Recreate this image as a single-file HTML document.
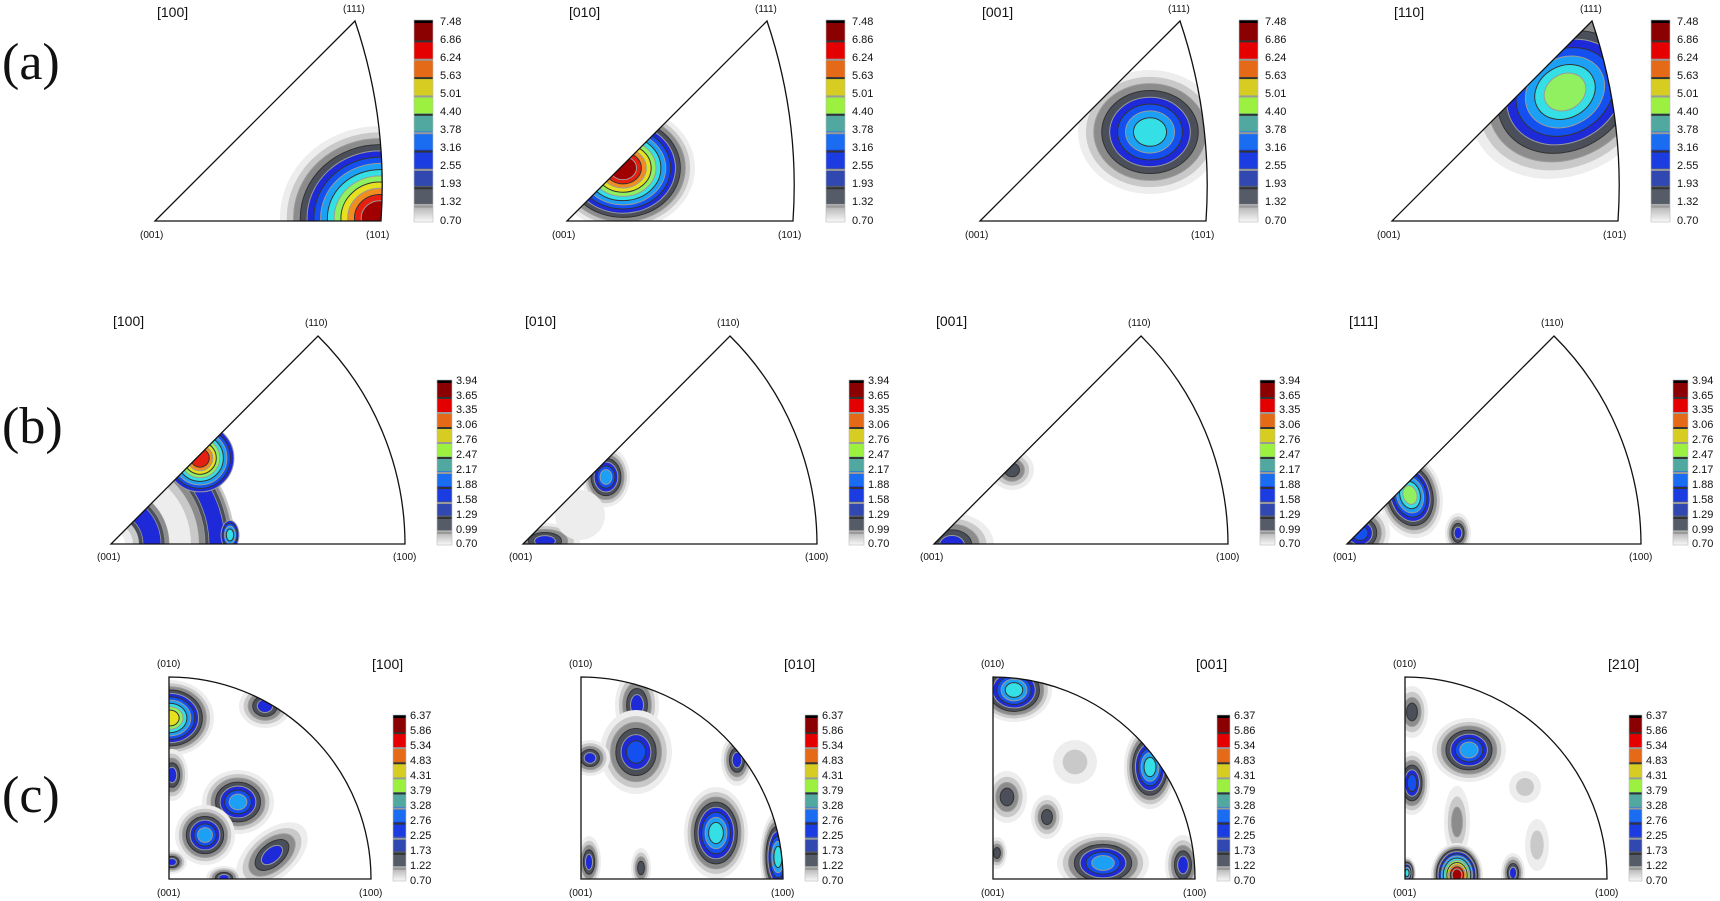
<!DOCTYPE html>
<html><head><meta charset="utf-8"><style>
html,body{margin:0;padding:0;background:#fff;}
svg{display:block;}
.s{font-family:"Liberation Sans",Arial,sans-serif;}
.L{font-family:"Liberation Serif","Times New Roman",serif;font-size:52px;}
.t{font-size:14px;}
.m{font-size:10px;}
.c{font-size:11px;}
</style></head><body>
<svg id="S" width="1720" height="901" viewBox="0 0 1720 901" xmlns="http://www.w3.org/2000/svg">
<defs id="D"></defs>
<g id="G"></g>
<g class="s" fill="#111">
<text class="L" x="2" y="79">(a)</text>
<text class="L" x="2" y="443">(b)</text>
<text class="L" x="2" y="812">(c)</text>

<text class="t" x="157" y="17">[100]</text><text class="m" x="343" y="12">(111)</text><text class="m" x="140" y="238">(001)</text><text class="m" x="366" y="238">(101)</text>
<text class="t" x="569" y="17">[010]</text><text class="m" x="755" y="12">(111)</text><text class="m" x="552" y="238">(001)</text><text class="m" x="778" y="238">(101)</text>
<text class="t" x="982" y="17">[001]</text><text class="m" x="1168" y="12">(111)</text><text class="m" x="965" y="238">(001)</text><text class="m" x="1191" y="238">(101)</text>
<text class="t" x="1394" y="17">[110]</text><text class="m" x="1580" y="12">(111)</text><text class="m" x="1377" y="238">(001)</text><text class="m" x="1603" y="238">(101)</text>

<text class="t" x="113" y="326">[100]</text><text class="m" x="305" y="326">(110)</text><text class="m" x="97" y="560">(001)</text><text class="m" x="393" y="560">(100)</text>
<text class="t" x="525" y="326">[010]</text><text class="m" x="717" y="326">(110)</text><text class="m" x="509" y="560">(001)</text><text class="m" x="805" y="560">(100)</text>
<text class="t" x="936" y="326">[001]</text><text class="m" x="1128" y="326">(110)</text><text class="m" x="920" y="560">(001)</text><text class="m" x="1216" y="560">(100)</text>
<text class="t" x="1349" y="326">[111]</text><text class="m" x="1541" y="326">(110)</text><text class="m" x="1333" y="560">(001)</text><text class="m" x="1629" y="560">(100)</text>

<text class="m" x="157" y="667">(010)</text><text class="t" x="372" y="669">[100]</text><text class="m" x="157" y="896">(001)</text><text class="m" x="359" y="896">(100)</text>
<text class="m" x="569" y="667">(010)</text><text class="t" x="784" y="669">[010]</text><text class="m" x="569" y="896">(001)</text><text class="m" x="771" y="896">(100)</text>
<text class="m" x="981" y="667">(010)</text><text class="t" x="1196" y="669">[001]</text><text class="m" x="981" y="896">(001)</text><text class="m" x="1183" y="896">(100)</text>
<text class="m" x="1393" y="667">(010)</text><text class="t" x="1608" y="669">[210]</text><text class="m" x="1393" y="896">(001)</text><text class="m" x="1595" y="896">(100)</text>
</g>
<g class="s c" fill="#111" font-size="11">
<g>
<text x="440" y="25">7.48</text><text x="440" y="43">6.86</text><text x="440" y="61">6.24</text><text x="440" y="79">5.63</text><text x="440" y="97">5.01</text><text x="440" y="115">4.40</text><text x="440" y="133">3.78</text><text x="440" y="151">3.16</text><text x="440" y="169">2.55</text><text x="440" y="187">1.93</text><text x="440" y="205">1.32</text><text x="440" y="224">0.70</text>
</g>
<g transform="translate(412,0)"><text x="440" y="25">7.48</text><text x="440" y="43">6.86</text><text x="440" y="61">6.24</text><text x="440" y="79">5.63</text><text x="440" y="97">5.01</text><text x="440" y="115">4.40</text><text x="440" y="133">3.78</text><text x="440" y="151">3.16</text><text x="440" y="169">2.55</text><text x="440" y="187">1.93</text><text x="440" y="205">1.32</text><text x="440" y="224">0.70</text></g>
<g transform="translate(825,0)"><text x="440" y="25">7.48</text><text x="440" y="43">6.86</text><text x="440" y="61">6.24</text><text x="440" y="79">5.63</text><text x="440" y="97">5.01</text><text x="440" y="115">4.40</text><text x="440" y="133">3.78</text><text x="440" y="151">3.16</text><text x="440" y="169">2.55</text><text x="440" y="187">1.93</text><text x="440" y="205">1.32</text><text x="440" y="224">0.70</text></g>
<g transform="translate(1237,0)"><text x="440" y="25">7.48</text><text x="440" y="43">6.86</text><text x="440" y="61">6.24</text><text x="440" y="79">5.63</text><text x="440" y="97">5.01</text><text x="440" y="115">4.40</text><text x="440" y="133">3.78</text><text x="440" y="151">3.16</text><text x="440" y="169">2.55</text><text x="440" y="187">1.93</text><text x="440" y="205">1.32</text><text x="440" y="224">0.70</text></g>
<g><text x="456" y="384">3.94</text><text x="456" y="399">3.65</text><text x="456" y="413">3.35</text><text x="456" y="428">3.06</text><text x="456" y="443">2.76</text><text x="456" y="458">2.47</text><text x="456" y="473">2.17</text><text x="456" y="488">1.88</text><text x="456" y="503">1.58</text><text x="456" y="518">1.29</text><text x="456" y="533">0.99</text><text x="456" y="547">0.70</text></g>
<g transform="translate(412,0)"><text x="456" y="384">3.94</text><text x="456" y="399">3.65</text><text x="456" y="413">3.35</text><text x="456" y="428">3.06</text><text x="456" y="443">2.76</text><text x="456" y="458">2.47</text><text x="456" y="473">2.17</text><text x="456" y="488">1.88</text><text x="456" y="503">1.58</text><text x="456" y="518">1.29</text><text x="456" y="533">0.99</text><text x="456" y="547">0.70</text></g>
<g transform="translate(823,0)"><text x="456" y="384">3.94</text><text x="456" y="399">3.65</text><text x="456" y="413">3.35</text><text x="456" y="428">3.06</text><text x="456" y="443">2.76</text><text x="456" y="458">2.47</text><text x="456" y="473">2.17</text><text x="456" y="488">1.88</text><text x="456" y="503">1.58</text><text x="456" y="518">1.29</text><text x="456" y="533">0.99</text><text x="456" y="547">0.70</text></g>
<g transform="translate(1236,0)"><text x="456" y="384">3.94</text><text x="456" y="399">3.65</text><text x="456" y="413">3.35</text><text x="456" y="428">3.06</text><text x="456" y="443">2.76</text><text x="456" y="458">2.47</text><text x="456" y="473">2.17</text><text x="456" y="488">1.88</text><text x="456" y="503">1.58</text><text x="456" y="518">1.29</text><text x="456" y="533">0.99</text><text x="456" y="547">0.70</text></g>
<g><text x="410" y="719">6.37</text><text x="410" y="734">5.86</text><text x="410" y="749">5.34</text><text x="410" y="764">4.83</text><text x="410" y="779">4.31</text><text x="410" y="794">3.79</text><text x="410" y="809">3.28</text><text x="410" y="824">2.76</text><text x="410" y="839">2.25</text><text x="410" y="854">1.73</text><text x="410" y="869">1.22</text><text x="410" y="884">0.70</text></g>
<g transform="translate(412,0)"><text x="410" y="719">6.37</text><text x="410" y="734">5.86</text><text x="410" y="749">5.34</text><text x="410" y="764">4.83</text><text x="410" y="779">4.31</text><text x="410" y="794">3.79</text><text x="410" y="809">3.28</text><text x="410" y="824">2.76</text><text x="410" y="839">2.25</text><text x="410" y="854">1.73</text><text x="410" y="869">1.22</text><text x="410" y="884">0.70</text></g>
<g transform="translate(824,0)"><text x="410" y="719">6.37</text><text x="410" y="734">5.86</text><text x="410" y="749">5.34</text><text x="410" y="764">4.83</text><text x="410" y="779">4.31</text><text x="410" y="794">3.79</text><text x="410" y="809">3.28</text><text x="410" y="824">2.76</text><text x="410" y="839">2.25</text><text x="410" y="854">1.73</text><text x="410" y="869">1.22</text><text x="410" y="884">0.70</text></g>
<g transform="translate(1236,0)"><text x="410" y="719">6.37</text><text x="410" y="734">5.86</text><text x="410" y="749">5.34</text><text x="410" y="764">4.83</text><text x="410" y="779">4.31</text><text x="410" y="794">3.79</text><text x="410" y="809">3.28</text><text x="410" y="824">2.76</text><text x="410" y="839">2.25</text><text x="410" y="854">1.73</text><text x="410" y="869">1.22</text><text x="410" y="884">0.70</text></g>
</g>
</svg>
<script>
(function(){
var NS="http://www.w3.org/2000/svg",D=document.getElementById("D"),G=document.getElementById("G");
var C=["#ffffff","#ededed","#c9c9c9","#8c8c8c","#4a4f5a","#1e2ad8","#1450f0","#1ca0f5","#34e0e6","#90f060","#e6e020","#f08c20","#e62010","#a00000"];
function el(t,a,p){var e=document.createElementNS(NS,t);for(var k in a)e.setAttribute(k,a[k]);(p||G).appendChild(e);return e;}
var id=0;
function panel(path,blobs){
  var cid="c"+(id++);var cp=el("clipPath",{id:cid},D);el("path",{d:path},cp);
  var g=el("g",{"clip-path":"url(#"+cid+")"});
  blobs.forEach(function(b){
    if(b[0]==="R"){
      b[3].forEach(function(r){el("circle",{cx:b[1],cy:b[2],r:r[0],fill:C[r[1]],stroke:r[1]>2?"#999":"none","stroke-width":0.8},g);});
      return;
    }
    var cx=b[0],cy=b[1],rx=b[2],ry=b[3],p=b[4],rot=b[5]||0,st=b[6]||1;
    for(var k=st;k<=p;k++){
      var s=1-(k-1)/p*0.88;
      el("ellipse",{cx:cx,cy:cy,rx:rx*s,ry:ry*s,fill:C[k],stroke:k>2?(k%2?"#9a9a9a":"#333"):"none","stroke-width":k>2?1:0,transform:"rotate("+rot+" "+cx+" "+cy+")"},g);
    }
  });
  el("path",{d:path,fill:"none",stroke:"#111","stroke-width":1.3});
}
function triA(v){return "M"+v+" 221 L"+(v+226)+" 221 A515 515 0 0 0 "+(v+200)+" 21 Z";}
function triB(v){return "M"+v+" 544 L"+(v+294)+" 544 A294 294 0 0 0 "+(v+207)+" 336 Z";}
function qC(v){return "M"+v+" 879 L"+v+" 677 A202 202 0 0 1 "+(v+202)+" 879 Z";}
// row a
panel(triA(155),[[380,218,100,92,13]]);
panel(triA(567),[[623,168,72,62,13]]);
panel(triA(980),[[1150,132,72,62,8]]);
panel(triA(1392),[[1565,92,100,82,9,-30]]);
// row b
panel(triB(111),[["R",111,544,[[124,2],[121,3],[118,4],[114,5],[98,4],[94,3],[88,2],[80,1],[62,1],[58,3],[54,4],[50,5],[32,4],[28,2],[22,1],[14,0]]],[200,458,48,48,12,0,5],[230,535,16,26,8,0,5]]);
panel(triB(523),[[545,541,35,18,5],[606,477,24,30,7],[580,515,25,25,1]]);
panel(triB(934),[[1012,470,22,20,4],[952,545,42,32,5]]);
panel(triB(1347),[[1410,495,32,44,9,-15],[1458,533,13,20,5],[1360,533,30,28,6]]);
// row c
panel(qC(169),[[170,718,44,38,10],[265,706,26,22,5],[172,775,16,26,5],[238,802,36,32,7],[205,835,30,30,7],[272,855,42,24,5,-40],[224,878,18,12,5],[172,862,15,12,5]]);
panel(qC(581),[[637,705,22,35,5],[636,752,36,42,6],[590,758,20,18,5],[737,760,16,26,5],[716,833,32,46,8],[778,857,18,46,8],[589,862,12,26,5],[641,868,10,20,4]]);
panel(qC(993),[[1014,690,38,32,8],[1075,762,22,22,2],[1150,767,26,42,8],[1007,797,20,26,4],[1047,817,16,22,4],[1103,863,46,30,7],[1183,865,18,30,5],[997,853,10,16,4]]);
panel(qC(1405),[[1412,712,16,26,4],[1469,750,37,32,7],[1412,783,18,32,6],[1525,787,16,16,2],[1457,822,13,36,3],[1457,875,26,32,13],[1513,873,12,20,5],[1537,845,12,26,2],[1407,873,9,16,8]]);
// colorbars
var cb=["#1a0000","#8b0000","#e40000","#e46a18","#d6cc22","#9cf040","#50a8a0","#1a6cf0","#1a3ce0","#3048b0","#555c68","#e6e6e6"];
function bar(x,y0,y1,w){
  var n=11,h=(y1-y0)/n;
  el("rect",{x:x,y:y0,width:w,height:3,fill:"#000"});
  for(var i=0;i<n;i++){
    var col=cb[i+1];
    if(i==n-1){var gid="g"+(id++);var lg=el("linearGradient",{id:gid,x1:0,y1:0,x2:0,y2:1},D);el("stop",{offset:0,"stop-color":"#a8a8a8"},lg);el("stop",{offset:1,"stop-color":"#fafafa"},lg);col="url(#"+gid+")";}
    el("rect",{x:x,y:y0+3+i*(h-0.27),width:w,height:h,fill:col});
    if(i>0)el("rect",{x:x,y:y0+i*h+2,width:w,height:2,fill:i%2?"#333":"#999"});
  }
  el("rect",{x:x,y:y0,width:w,height:y1-y0,fill:"none",stroke:"#bbb","stroke-width":0.6});
}
[414,826,1239,1651].forEach(function(x){bar(x,20,222,19);});
[437,849,1260,1673].forEach(function(x){bar(x,380,545,15);});
[393,805,1217,1629].forEach(function(x){bar(x,715,881,13);});
})();
</script>
</body></html>
